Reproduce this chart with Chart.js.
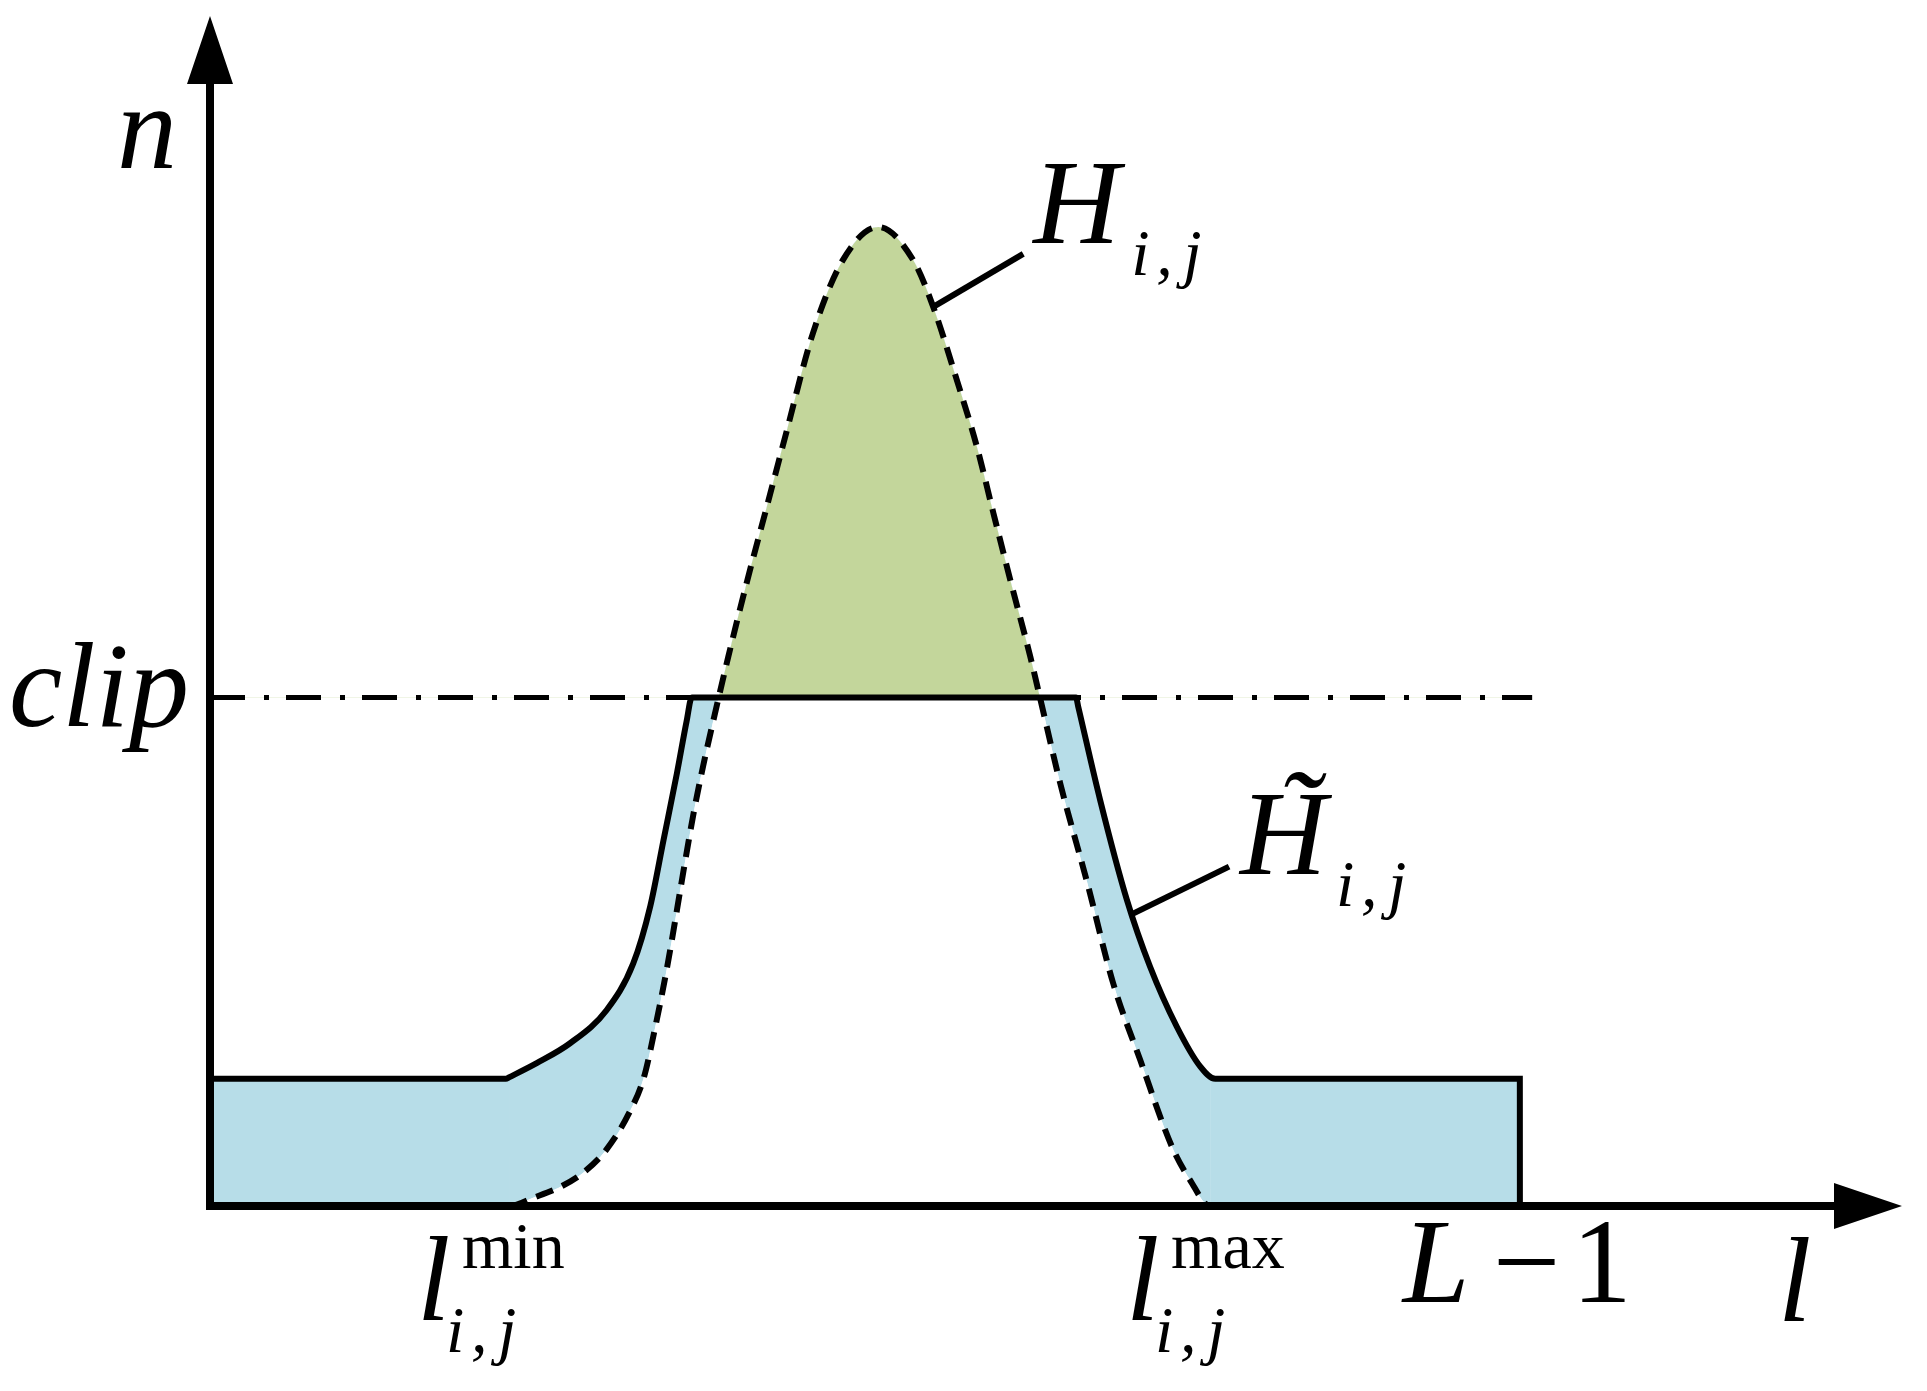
<!DOCTYPE html>
<html>
<head>
<meta charset="utf-8">
<script src="https://cdn.jsdelivr.net/npm/chart.js@4.4.1/dist/chart.umd.min.js"></script>
<style>
  html, body { margin: 0; padding: 0; background: #fff; overflow: hidden; }
  #wrap { position: relative; width: 1927px; height: 1391px; }
</style>
</head>
<body>
<div id="wrap"><canvas id="clipChart"></canvas></div>
<script>
// clip-limited local histogram — Chart.js line chart + arrow axes / math labels

const SERIF = '"Liberation Serif", "Times New Roman", serif';
const INK   = '#000000';
const BLUE  = '#B7DDE8';
const GREEN = '#C3D69B';

// axis extents: grey level l (x), pixel count n (y)
const X_MAX  = 329.4;
const Y_MAX  = 234;
const CLIP   = 100;
const L_TOP  = 255;     // L - 1
const L_MIN  = 58.4;
const L_MAX  = 194.7;

// original histogram H_{i,j} (dashed)
const histLevels = [0, 58.4, 62.9, 68.1, 72.6, 77.1, 81.6, 84.5, 86.5, 89.0, 92.2, 94.1, 96.0, 98.0,
  100.9, 104.6, 108.4, 112.3, 117.4, 123.2, 130.1, 136.9, 140.8, 145.4, 149.3, 152.5, 155.8,
  159.7, 161.6, 165.5, 170.8, 175.8, 181.1, 187.3, 190.8, 194.7, 256];
const histCounts = [0, 0, 1.6, 3.7, 6.5, 11.0, 18.3, 25.4, 34.3, 47.0, 66.0, 77.0, 86.5, 95.5,
  108.0, 123.0, 137.5, 152.5, 171.7, 186.0, 192.5, 186.0, 176.8, 162.4, 149.3, 136.3, 123.1,
  108.0, 99.9, 83.2, 63.5, 43.9, 28.7, 11.6, 5.1, 0, 0];

// clipped + redistributed histogram H~_{i,j} (solid)
const clipLevels = [0, 57.6, 58.2, 63.6, 70.1, 77.2, 82.4, 85.7, 88.3, 90.9, 92.8, 93.8,
  168.6, 169.0, 173.3, 178.5, 183.0, 188.2, 192.8, 195.7, 255, 255.01];
const clipCounts = [25, 25, 25.3, 28.1, 32.0, 38.5, 47.7, 58.9, 72.0, 85.1, 95.4, 100,
  100, 98.3, 79.8, 60.2, 47.1, 35.3, 27.4, 25, 25, 0];

// clip limit (dash-dot)
const limitLevels = [0, 257.4];
const limitCounts = [CLIP, CLIP];

// callout anchors on the curves
const H_ANCHOR  = [140.8, 176.8];
const HT_ANCHOR = [179.7, 57.5];

const pts = (xs, ys) => xs.map((x, i) => ({ x, y: ys[i] }));

function put(c, s, x, y, size, style) {
  c.font = `${style ? style + ' ' : ''}${size}px ${SERIF}`;
  c.fillText(s, x, y);
}

// subscript "i , j"
function subIJ(c, x, y) {
  put(c, 'i', x - 2, y, 66, 'italic');
  put(c, ',', x + 23, y, 66, 'italic');
  put(c, 'j', x + 50, y, 66, 'italic');
}

function levelLabel(c, x, oy, sup) {
  put(c, 'l', x, oy + 114, 120, 'italic');
  put(c, sup, x + 45, oy + 62, 66, '');
  subIJ(c, x + 31, oy + 146);
}

function leader(c, x0, y0, x1, y1) {
  c.beginPath();
  c.moveTo(x0, y0);
  c.lineTo(x1, y1);
  c.stroke();
}

// ── arrow axes drawn over the data ─────
const axesPlugin = {
  id: 'arrowAxes',
  afterDatasetsDraw(chart) {
    const { ctx: c, scales: { x, y } } = chart;
    const ox = x.getPixelForValue(0), oy = y.getPixelForValue(0);
    const tipX = x.getPixelForValue(X_MAX), tipY = y.getPixelForValue(Y_MAX);
    const head = 68, half = 23;
    c.save();
    c.strokeStyle = INK;
    c.fillStyle = INK;
    c.lineWidth = 8;
    c.beginPath();
    c.moveTo(ox, oy + 4);
    c.lineTo(ox, tipY + head);
    c.moveTo(ox - 4, oy);
    c.lineTo(tipX - head, oy);
    c.stroke();
    c.beginPath();
    c.moveTo(ox, tipY);
    c.lineTo(ox - half, tipY + head);
    c.lineTo(ox + half, tipY + head);
    c.closePath();
    c.moveTo(tipX, oy);
    c.lineTo(tipX - head, oy - half);
    c.lineTo(tipX - head, oy + half);
    c.closePath();
    c.fill();
    c.restore();
  }
};

// ── labels and callouts ─────
const labelPlugin = {
  id: 'mathLabels',
  afterDraw(chart) {
    const { ctx: c, scales: { x, y } } = chart;
    const ox = x.getPixelForValue(0), oy = y.getPixelForValue(0);
    const cy = y.getPixelForValue(CLIP);
    const tipY = y.getPixelForValue(Y_MAX);
    c.save();
    c.fillStyle = INK;
    c.strokeStyle = INK;
    c.textAlign = 'left';
    c.textBaseline = 'alphabetic';

    put(c, 'n', ox - 93, tipY + 152, 120, 'italic');
    put(c, 'clip', ox - 201, cy + 29, 120, 'italic');
    put(c, 'l', 1778, oy + 115, 120, 'italic');

    levelLabel(c, x.getPixelForValue(L_MIN) - 93, oy, 'min');
    levelLabel(c, x.getPixelForValue(L_MAX) - 84, oy, 'max');

    const lx = x.getPixelForValue(L_TOP);
    put(c, 'L', lx - 117, oy + 96, 120, 'italic');
    put(c, '\u2212', lx - 27, oy + 96, 120, '');
    put(c, '1', lx + 52, oy + 96, 120, '');

    c.lineWidth = 6;
    // H_{i,j}
    const hx = x.getPixelForValue(H_ANCHOR[0]), hy = y.getPixelForValue(H_ANCHOR[1]);
    leader(c, hx, hy, hx + 90, hy - 53);
    put(c, 'H', hx + 100, hy - 64, 120, 'italic');
    subIJ(c, hx + 200, hy - 32);

    // H~_{i,j}
    const tx = x.getPixelForValue(HT_ANCHOR[0]), ty = y.getPixelForValue(HT_ANCHOR[1]);
    leader(c, tx, ty, tx + 96, ty - 47);
    put(c, 'H', tx + 107, ty - 40, 120, 'italic');
    put(c, '\u02DC', tx + 144, ty - 58, 125, 'italic');
    subIJ(c, tx + 205, ty - 8);

    c.restore();
  }
};

new Chart(document.getElementById('clipChart'), {
  type: 'line',
  data: {
    datasets: [
      {
        label: 'H~',
        data: pts(clipLevels, clipCounts),
        borderColor: INK,
        borderWidth: 6,
        cubicInterpolationMode: 'monotone',
        pointRadius: 0,
        fill: { target: 1, above: BLUE, below: 'transparent' },
        clip: false,
      },
      {
        label: 'H',
        data: pts(histLevels, histCounts),
        borderColor: INK,
        borderWidth: 6,
        borderDash: [18, 10],
        borderCapStyle: 'butt',
        cubicInterpolationMode: 'monotone',
        pointRadius: 0,
        fill: { target: { value: CLIP }, above: GREEN, below: 'transparent' },
        segment: {
          borderColor: s => (s.p0.parsed.y === 0 && s.p1.parsed.y === 0) ? 'transparent' : INK,
        },
        clip: false,
      },
      {
        label: 'clip',
        data: pts(limitLevels, limitCounts),
        borderColor: INK,
        borderWidth: 5,
        borderDash: [35, 19, 5, 17],
        borderCapStyle: 'butt',
        pointRadius: 0,
        fill: false,
        clip: false,
      },
    ]
  },
  plugins: [axesPlugin, labelPlugin],
  options: {
    responsive: true,
    maintainAspectRatio: false,
    devicePixelRatio: 1,
    animation: false,
    events: [],
    layout: { padding: { left: 210, right: 25, top: 16, bottom: 185 } },
    plugins: {
      legend: { display: false },
      tooltip: { enabled: false },
      filler: { drawTime: 'beforeDatasetsDraw' },
    },
    scales: {
      x: { type: 'linear', min: 0, max: X_MAX, display: false },
      y: { type: 'linear', min: 0, max: Y_MAX, display: false },
    }
  }
});
</script>
</body>
</html>
